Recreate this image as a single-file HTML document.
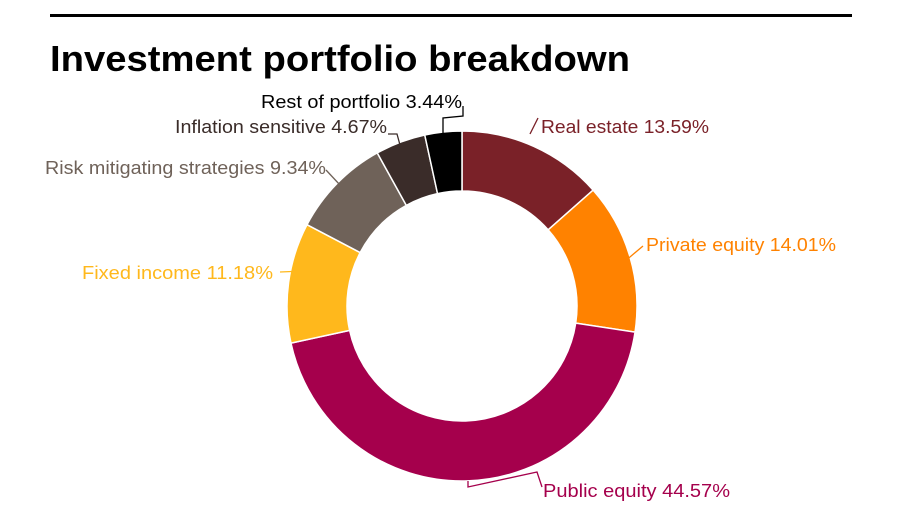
<!DOCTYPE html>
<html><head><meta charset="utf-8">
<style>
html,body{margin:0;padding:0;background:#fff;width:920px;height:514px;overflow:hidden}
svg{display:block}
text{font-family:"Liberation Sans",sans-serif}
</style></head>
<body>
<svg id="s" width="920" height="514" viewBox="0 0 920 514">
<rect x="50" y="14" width="802" height="3" fill="#000"/>
<text x="50" y="71" font-size="36" font-weight="bold" fill="#000" textLength="580" lengthAdjust="spacingAndGlyphs">Investment portfolio breakdown</text>
<g id="slices"></g>
<g fill="none" stroke-width="1.3">
<polyline points="530,134 538,118" stroke="#7a2128"/>
<polyline points="624,262 643,246" stroke="#ff8200"/>
<polyline points="468,481 468,487 537,472 542,487" stroke="#a5004c"/>
<polyline points="352,269 280,272" stroke="#ffb81c"/>
<polyline points="340,185 326,170" stroke="#6f6259"/>
<polyline points="400,145 397,134 388,134" stroke="#3a2c29"/>
<polyline points="443,133 443,118 463,116 463,106" stroke="#000"/>
</g>
<g font-size="18" lengthAdjust="spacingAndGlyphs">
<text x="541" y="133" fill="#7a2128" textLength="168" lengthAdjust="spacingAndGlyphs">Real estate 13.59%</text>
<text x="646" y="251" fill="#ff8200" textLength="190" lengthAdjust="spacingAndGlyphs">Private equity 14.01%</text>
<text x="543" y="497" fill="#a5004c" textLength="187" lengthAdjust="spacingAndGlyphs">Public equity 44.57%</text>
<text x="82" y="279" fill="#ffb81c" textLength="191" lengthAdjust="spacingAndGlyphs">Fixed income 11.18%</text>
<text x="45" y="174" fill="#6f6259" textLength="281" lengthAdjust="spacingAndGlyphs">Risk mitigating strategies 9.34%</text>
<text x="175" y="133" fill="#3a2c29" textLength="212" lengthAdjust="spacingAndGlyphs">Inflation sensitive 4.67%</text>
<text x="261" y="108" fill="#000" textLength="201" lengthAdjust="spacingAndGlyphs">Rest of portfolio 3.44%</text>
</g>
</svg>
<script>
var d=[[13.59,"#7a2128"],[14.01,"#ff8200"],[44.57,"#a5004c"],[11.18,"#ffb81c"],[9.34,"#6f6259"],[4.67,"#3a2c29"],[3.44,"#000"]];
var cx=462,cy=306,R=175,r=115,a=0,tot=100.8,h="";
function p(rad,ang){return [cx+rad*Math.sin(ang),cy-rad*Math.cos(ang)];}
d.forEach(function(s){var a0=a/tot*2*Math.PI;a+=s[0];var a1=a/tot*2*Math.PI;
var L=(a1-a0)>Math.PI?1:0;var A=p(R,a0),B=p(R,a1),C=p(r,a1),D=p(r,a0);
h+='<path d="M'+A+' A'+R+','+R+' 0 '+L+' 1 '+B+' L'+C+' A'+r+','+r+' 0 '+L+' 0 '+D+' Z" fill="'+s[1]+'" stroke="#fff" stroke-width="1.5"/>';});
document.getElementById("slices").innerHTML=h;
</script>
</body></html>
